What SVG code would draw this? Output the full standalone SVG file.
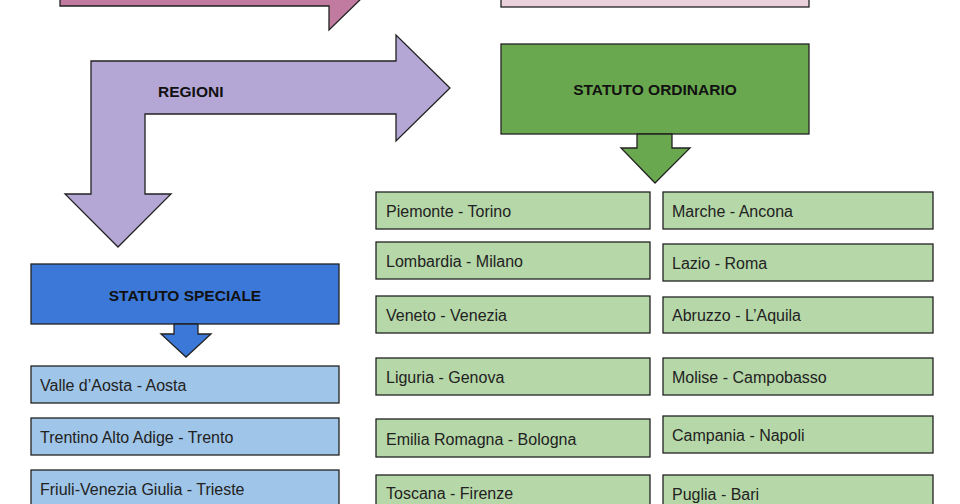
<svg xmlns="http://www.w3.org/2000/svg" width="960" height="504" viewBox="0 0 960 504">
<style>
.s{stroke:#222;stroke-width:1.3}
.t{font-family:"Liberation Sans",Arial,sans-serif;font-size:16px;fill:#222}
.b{font-weight:bold;font-size:15.5px;fill:#111}
.g{fill:#b6d7a8}.lb{fill:#9fc5e8}
</style>
<rect width="960" height="504" fill="#fff"/>
<g id="top-arrow"><polygon class="s" fill="#c27ba0" points="60,-20 60,6 329,6 329,30 366,-6 329,-20"/></g>
<g id="top-box"><rect class="s" fill="#ead1dc" x="501" y="-20" width="308" height="27"/></g>
<g id="regioni"><polygon class="s" fill="#b4a7d6" points="91,61 396,61 396,35 450,88 396,141 396,114 145,114 145,194 171,194 118,247 65,194 91,194"/>
<text class="t b" x="158" y="97">REGIONI</text></g>
<g id="ordinario"><rect class="s" fill="#6aa84f" x="501" y="44" width="308" height="90"/>
<text class="t b" x="655" y="95" text-anchor="middle">STATUTO ORDINARIO</text></g>
<g id="speciale"><rect class="s" fill="#3c78d8" x="31" y="264" width="308" height="60"/>
<text class="t b" x="185" y="301" text-anchor="middle">STATUTO SPECIALE</text></g>
<g id="connectors">
<polygon class="s" fill="#6aa84f" points="637,134 672,134 672,148 690,148 655,183 621,148 637,148"/>
<polygon class="s" fill="#3c78d8" stroke-width="0.8" points="174,324 198,324 198,334 211,334 186,357 161,334 174,334"/>
</g>
<g id="valle"><rect class="s lb" x="31" y="366" width="308" height="37"/><text class="t" x="40" y="391">Valle d’Aosta - Aosta</text></g>
<g id="trentino"><rect class="s lb" x="31" y="418" width="308" height="37"/><text class="t" x="40" y="443">Trentino Alto Adige - Trento</text></g>
<g id="friuli"><rect class="s lb" x="31" y="470" width="308" height="40"/><text class="t" x="40" y="495">Friuli-Venezia Giulia - Trieste</text></g>
<g id="piemonte"><rect class="s g" x="376" y="192" width="274" height="37"/><text class="t" x="386" y="217">Piemonte - Torino</text></g>
<g id="lombardia"><rect class="s g" x="376" y="242" width="274" height="37"/><text class="t" x="386" y="267">Lombardia - Milano</text></g>
<g id="veneto"><rect class="s g" x="376" y="296" width="274" height="37"/><text class="t" x="386" y="321">Veneto - Venezia</text></g>
<g id="liguria"><rect class="s g" x="376" y="358" width="274" height="37"/><text class="t" x="386" y="383">Liguria - Genova</text></g>
<g id="emilia"><rect class="s g" x="376" y="419" width="274" height="38"/><text class="t" x="386" y="445">Emilia Romagna - Bologna</text></g>
<g id="toscana"><rect class="s g" x="376" y="475" width="274" height="37"/><text class="t" x="386" y="499">Toscana - Firenze</text></g>
<g id="marche"><rect class="s g" x="663" y="192" width="270" height="37"/><text class="t" x="672" y="217">Marche - Ancona</text></g>
<g id="lazio"><rect class="s g" x="663" y="244" width="270" height="37"/><text class="t" x="672" y="269">Lazio - Roma</text></g>
<g id="abruzzo"><rect class="s g" x="663" y="297" width="270" height="36"/><text class="t" x="672" y="321">Abruzzo - L’Aquila</text></g>
<g id="molise"><rect class="s g" x="663" y="358" width="270" height="37"/><text class="t" x="672" y="383">Molise - Campobasso</text></g>
<g id="campania"><rect class="s g" x="663" y="416" width="270" height="37"/><text class="t" x="672" y="441">Campania - Napoli</text></g>
<g id="puglia"><rect class="s g" x="663" y="475" width="270" height="37"/><text class="t" x="672" y="500">Puglia - Bari</text></g>
</svg>
